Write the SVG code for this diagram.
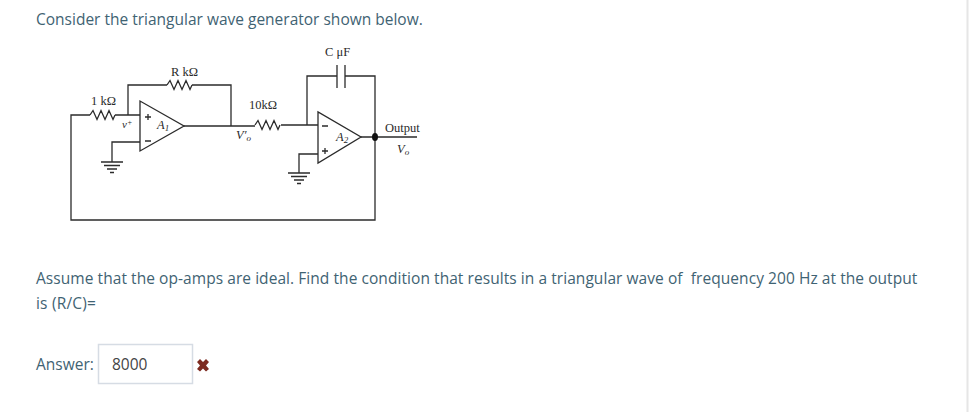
<svg xmlns="http://www.w3.org/2000/svg" width="975" height="412" viewBox="0 0 975 412">
<style>
.t{font-family:"Open Sans",sans-serif;font-size:15.5px;fill:#3f6373}
.w{fill:none;stroke:#2b2b2b;stroke-width:1.3}
.s{font-family:"Liberation Serif",serif;font-size:12.500px;fill:#2a2a2a}
.i{font-style:italic}
</style>
<defs>
<path id="res" class="w" d="M0 0l3-4.500 4 9 4-9 4 9 4-9 4 9 2-4.500"/>
<path id="gnd" class="w" d="M-11 0h22M-8 3.500h16M-5 7h10M-2 10.500h4"/>
</defs>
<rect width="975" height="412" fill="#fff"/>
<rect x="966.500" y="0" width="2" height="412" fill="#e6e6e6"/>
<text class="t" x="36" y="25">Consider the triangular wave generator shown below.</text>
<g id="connectors">
<path class="w" d="M140 115H115M90 115H71V220H375V76H345M337 76H307V125M128 115V85H167M192 85H231V126M184 126H255M281 125H318M318 154H299V173M140 142H112V162M361 137H417"/>
</g>
<g id="r1"><use href="#res" x="90" y="115"/><text class="s" x="91" y="105">1 kΩ</text></g>
<g id="r2"><use href="#res" x="167" y="85"/><text class="s" x="171" y="76">R kΩ</text></g>
<g id="r3"><use href="#res" x="255" y="125"/><text class="s" x="249" y="109">10kΩ</text></g>
<g id="c1"><path class="w" d="M337 65V88M345 65V88"/><text class="s" x="325" y="56">C μF</text></g>
<g id="a1"><path class="w" d="M140 101V151L184 126Z"/><path class="w" d="M145 117h6M148 114v6M145 141h6"/><text class="s i" x="157" y="129">A<tspan font-size="9" dy="2">1</tspan></text></g>
<g id="a2"><path class="w" d="M318 112V163L361 137Z"/><path class="w" d="M322 126h6M322 151h6M325 148v6"/><text class="s i" x="336" y="141">A<tspan font-size="9" dy="2">2</tspan></text></g>
<g id="g1"><use href="#gnd" x="112" y="162"/></g>
<g id="g2"><use href="#gnd" x="299" y="173"/></g>
<g id="dot"><ellipse cx="375" cy="137" rx="3" ry="4" fill="#111"/></g>
<text class="s i" x="122" y="128" style="font-size:11px">v<tspan font-size="8" dy="-3">+</tspan></text>
<text class="s i" x="236" y="139">V′<tspan font-size="9" dy="2">o</tspan></text>
<text class="s" x="385" y="132">Output</text>
<text class="s i" x="397" y="153">V<tspan font-size="9" dy="2">o</tspan></text>
<text class="t" x="36" y="284" xml:space="preserve" letter-spacing="0.06">Assume that the op-amps are ideal. Find the condition that results in a triangular wave of  frequency 200 Hz at the output</text>
<text class="t" x="36" y="309" letter-spacing="0.2">is (R/C)=</text>
<text class="t" x="36" y="370">Answer:</text>
<g id="answer"><rect x="98.500" y="344.500" width="94" height="39" fill="#fff" stroke="#d6dce4" stroke-width="1.500"/><text class="t" x="112" y="370" style="fill:#444">8000</text></g>
<path d="M197 362l3-3 3 3 3-3 3 3-3 3.500 3 3.500-3 2.500-3-3-3 3-3-2.500 3-3.500z" fill="#7d2a20"/>
</svg>
